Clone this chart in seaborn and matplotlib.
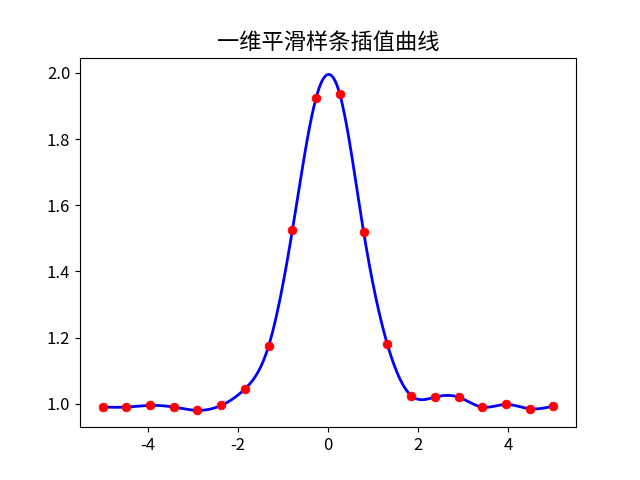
import numpy as np
import matplotlib
matplotlib.use("Agg")
import matplotlib.pyplot as plt
import seaborn as sns

x_pts = np.linspace(-5, 5, 20)
y_pts = [0.99, 0.99, 0.995, 0.99, 0.98, 0.995, 1.045, 1.175, 1.525, 1.925,
         1.935, 1.52, 1.18, 1.025, 1.02, 1.02, 0.99, 0.998, 0.985, 0.993]
title = "一维平滑样条插值曲线"

def natural_spline(x, y, xs):
    x = np.asarray(x); y = np.asarray(y); n = len(x)
    h = np.diff(x)
    A = np.zeros((n, n)); b = np.zeros(n)
    A[0, 0] = A[-1, -1] = 1
    for i in range(1, n - 1):
        A[i, i-1] = h[i-1]; A[i, i] = 2*(h[i-1]+h[i]); A[i, i+1] = h[i]
        b[i] = 3*((y[i+1]-y[i])/h[i] - (y[i]-y[i-1])/h[i-1])
    c = np.linalg.solve(A, b)
    idx = np.clip(np.searchsorted(x, xs) - 1, 0, n - 2)
    hi = h[idx]; dx = xs - x[idx]
    bb = (y[idx+1]-y[idx])/hi - hi*(2*c[idx]+c[idx+1])/3
    d = (c[idx+1]-c[idx])/(3*hi)
    return y[idx] + bb*dx + c[idx]*dx**2 + d*dx**3

xs = np.linspace(-5, 5, 400)
ys = natural_spline(x_pts, y_pts, xs)

plt.rcParams['font.family'] = ['Noto Sans CJK SC', 'DejaVu Sans']
plt.rcParams['axes.unicode_minus'] = False
fig, ax = plt.subplots(figsize=(6.4, 4.8), dpi=100)
sns.scatterplot(x=x_pts, y=y_pts, color='red', s=40, marker='o', edgecolor='red', ax=ax, zorder=3)
sns.lineplot(x=xs, y=ys, color='blue', linewidth=2, ax=ax)
ax.set_title(title, fontsize=16)
ax.tick_params(labelsize=12)
ax.set_yticks([1.0, 1.2, 1.4, 1.6, 1.8, 2.0])
fig.savefig("out.png")
